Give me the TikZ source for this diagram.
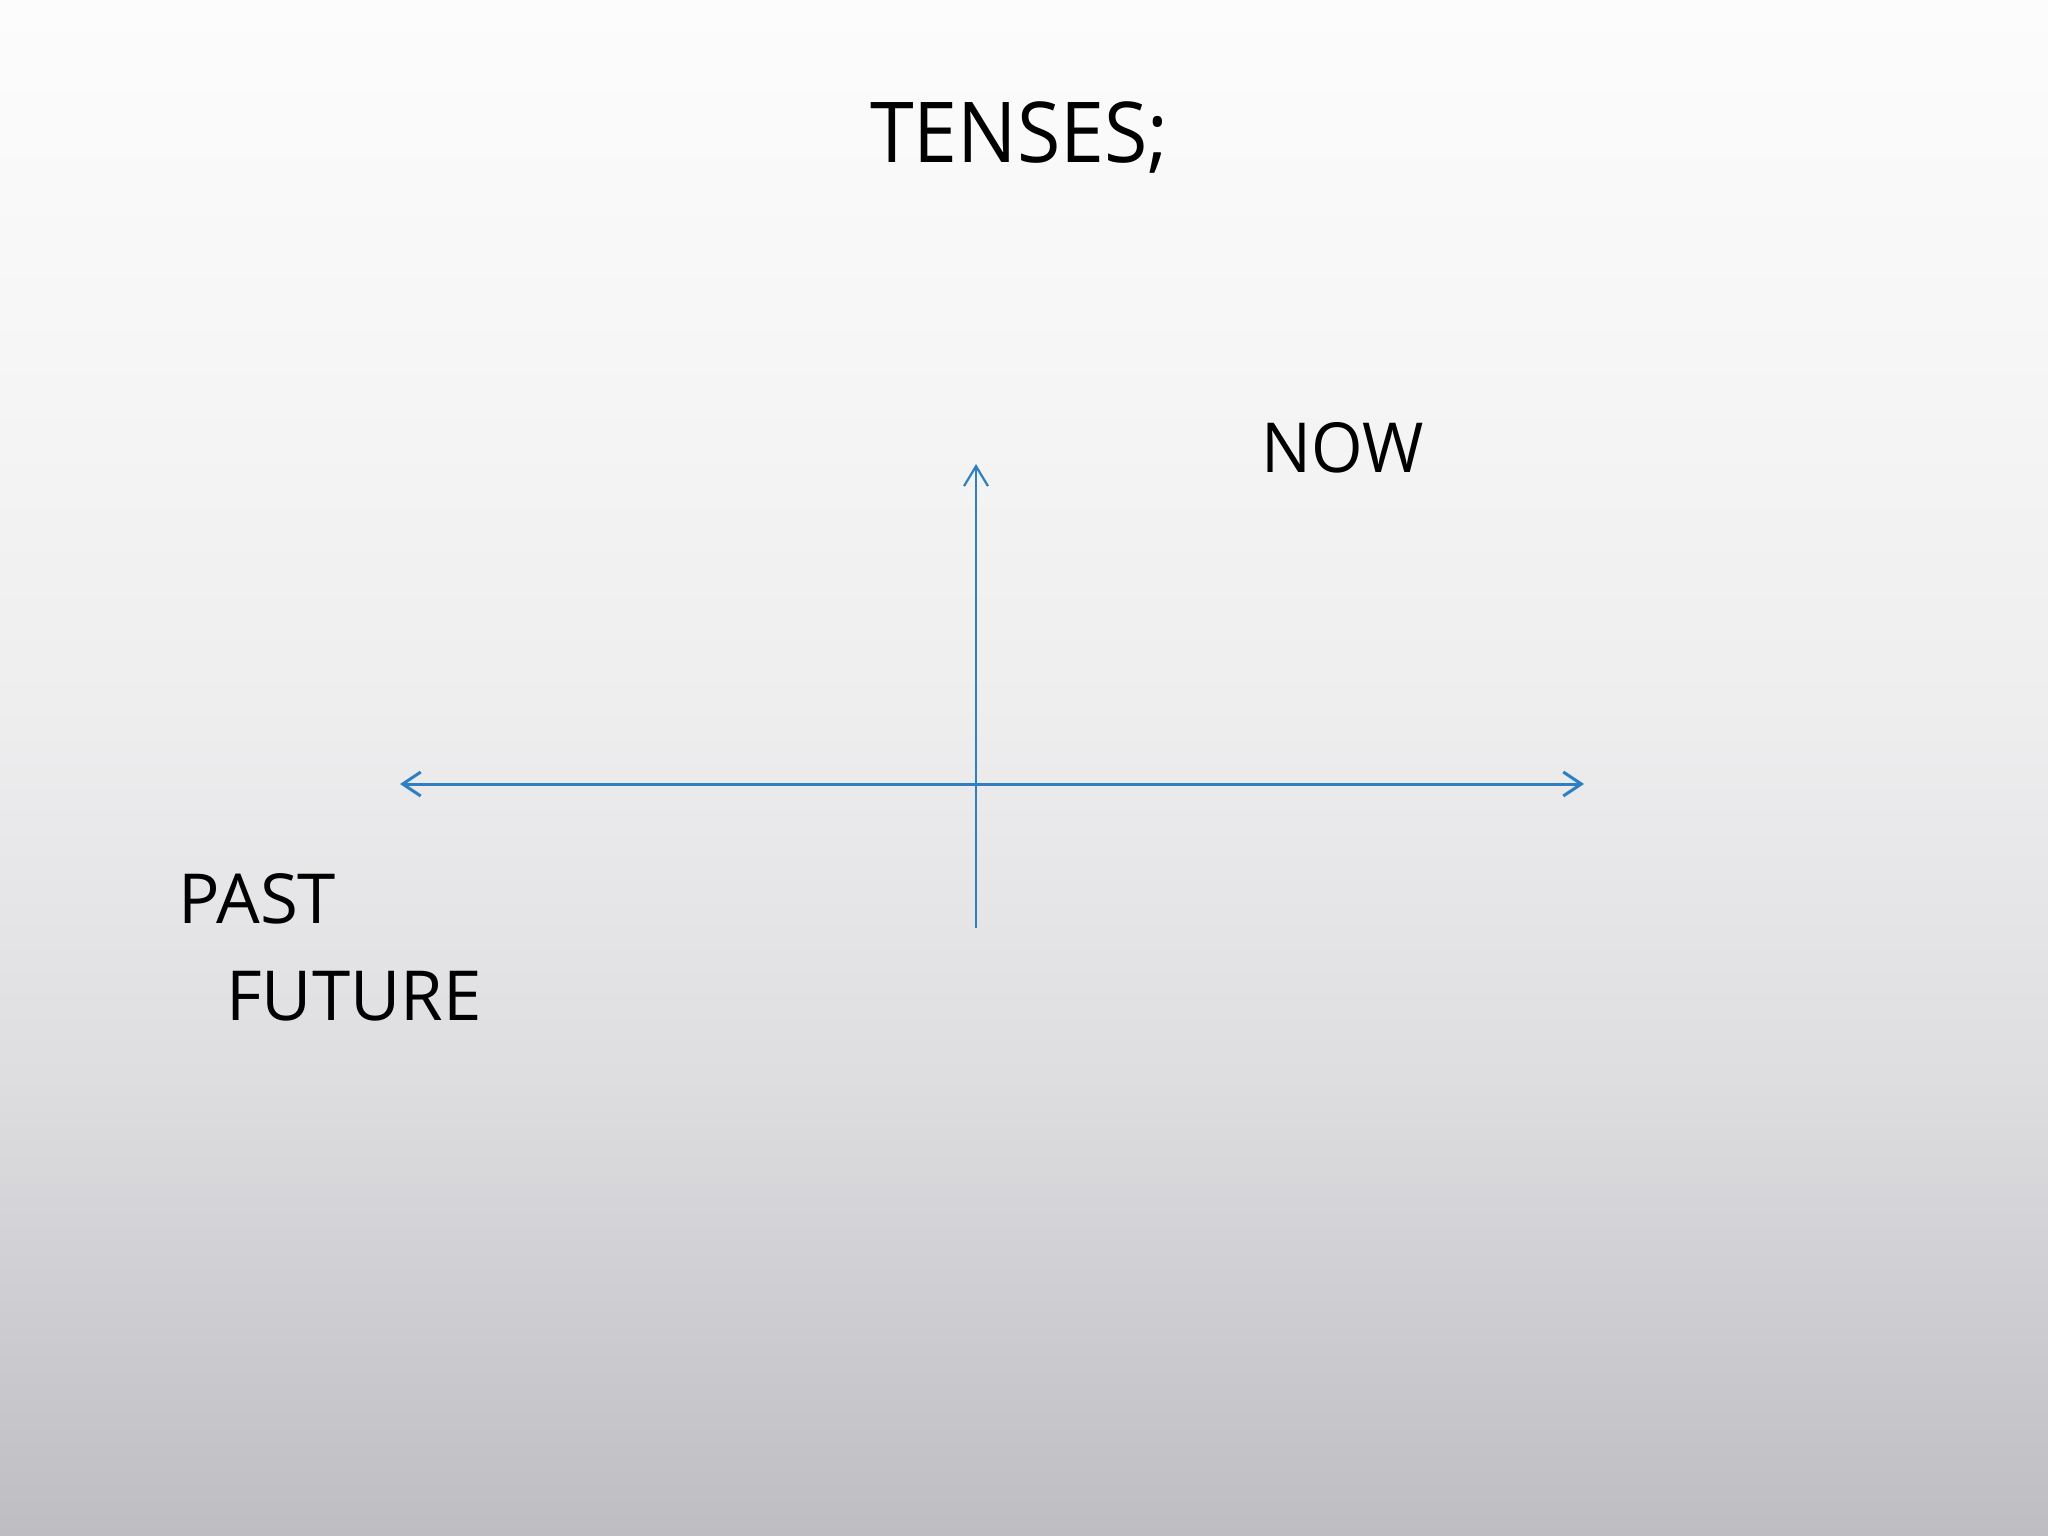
\documentclass[tikz,border=0pt]{standalone}
\usepackage{fontspec}
\usepackage{graphicx}
\setmainfont{Open Sans}
\usetikzlibrary{arrows.meta}
\definecolor{axisblue}{RGB}{46,128,194}
\definecolor{bgtop}{RGB}{252,252,252}
\definecolor{bgA}{RGB}{247,247,247}
\definecolor{bgB}{RGB}{238,238,239}
\definecolor{bgC}{RGB}{222,221,224}
\definecolor{bgbot}{RGB}{190,189,193}
\pgfdeclareverticalshading{slidebg}{100bp}{color(0bp)=(bgbot); color(25bp)=(bgbot); color(40bp)=(bgC); color(52bp)=(bgB); color(65bp)=(bgA); color(75bp)=(bgtop); color(100bp)=(bgtop)}
\tikzset{
  slidetext/.style={anchor=base west, inner sep=0pt, text=black},
  axisline/.style={draw=axisblue, line cap=butt, line join=round}
}
\begin{document}
\begin{tikzpicture}[x=1pt,y=-1pt]
\useasboundingbox (0,0) rectangle (2048,1536);
\shade[shading=slidebg] (0,0) rectangle (2048,1536);
% text
\node[slidetext, font=\fontsize{84}{100}\selectfont] (title) at (870,163) {\scalebox{0.94}[1]{TENSES;}};
\node[slidetext, font=\fontsize{69}{82}\selectfont] (now) at (1261,472) {\scalebox{0.96}[1]{NOW}};
\node[slidetext, font=\fontsize{69}{82}\selectfont] (past) at (178,923) {PAST};
\node[slidetext, font=\fontsize{69}{82}\selectfont] (future) at (226,1020) {FUTURE};
% axes
\coordinate (hleft) at (400,784);
\coordinate (hright) at (1584,784);
\coordinate (vtop) at (976,464);
\coordinate (vbot) at (976,928);
\draw[axisline, line width=3pt, {Straight Barb[length=18pt,width=24pt]}-{Straight Barb[length=18pt,width=24pt]}] (hleft) -- (hright);
\draw[axisline, line width=2.2pt, -{Straight Barb[length=20pt,width=24pt]}] (vbot) -- (vtop);
\end{tikzpicture}
\end{document}
